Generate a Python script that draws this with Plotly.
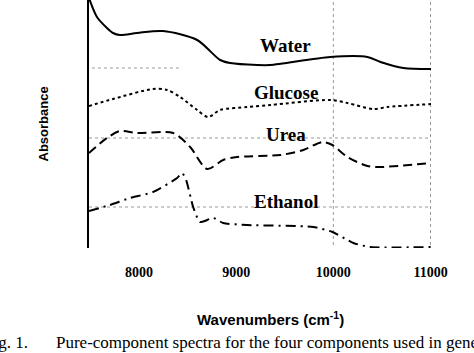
import plotly.graph_objects as go

# Data (wavenumber, absorbance in arbitrary offset units)
water_x = [7485, 7567, 7670, 7732, 7804, 7979, 8247, 8598, 8835, 8938, 9216, 9351, 9969, 10351, 10485, 10722, 11010]
water_y = [2.50, 2.31, 2.20, 2.15, 2.13, 2.15, 2.17, 2.08, 1.88, 1.85, 1.83, 1.83, 1.91, 1.91, 1.86, 1.80, 1.79]

glucose_x = [7485, 7732, 8144, 8289, 8423, 8598, 8711, 8835, 9113, 9351, 9969, 10144, 10412, 10557, 11010]
glucose_y = [1.42, 1.49, 1.59, 1.58, 1.51, 1.38, 1.31, 1.38, 1.41, 1.43, 1.48, 1.45, 1.39, 1.41, 1.44]

urea_x = [7485, 7670, 7804, 7979, 8351, 8526, 8701, 8866, 9010, 9454, 9691, 9887, 9990, 10144, 10351, 10485, 11010]
urea_y = [0.95, 1.10, 1.17, 1.15, 1.15, 1.01, 0.79, 0.88, 0.91, 0.93, 0.98, 1.06, 1.03, 0.91, 0.82, 0.81, 0.85]

ethanol_x = [7485, 7701, 7907, 8144, 8392, 8443, 8485, 8557, 8629, 8763, 8866, 9113, 9794, 9990, 10206, 10381, 11010]
ethanol_y = [0.37, 0.43, 0.50, 0.56, 0.70, 0.75, 0.68, 0.41, 0.26, 0.30, 0.25, 0.23, 0.21, 0.16, 0.05, 0.01, 0.01]

x_ticks = [8000, 9000, 10000, 11000]
x_tick_labels = ["8000", "9000", "10000", "11000"]
h_grid = [1.10, 0.41]
h_grid_partial = (1.80, 7515, 8443)
v_grid = [10000, 11000]

labels = ["Water", "Glucose", "Urea", "Ethanol"]
label_x = [9510, 9510, 9510, 9510]
label_y = [2.03, 1.56, 1.14, 0.47]

fig = go.Figure()
serif = "Liberation Serif, Times New Roman, serif"
sans = "Liberation Sans, Arial, sans-serif"

grid_style = dict(color="#999999", width=1, dash="dot")
for gy in h_grid:
    fig.add_shape(type="line", xref="x", yref="y", x0=7485, x1=11005, y0=gy, y1=gy, line=grid_style, layer="below")
fig.add_shape(type="line", xref="x", yref="y", x0=h_grid_partial[1], x1=h_grid_partial[2],
              y0=h_grid_partial[0], y1=h_grid_partial[0], line=grid_style, layer="below")
for gx in v_grid:
    fig.add_shape(type="line", xref="x", yref="y", x0=gx, x1=gx, y0=-0.03, y1=2.48, line=grid_style, layer="below")

fig.add_trace(go.Scatter(x=water_x, y=water_y, mode="lines",
                         line=dict(color="black", width=2, shape="spline", smoothing=0.8)))
fig.add_trace(go.Scatter(x=glucose_x, y=glucose_y, mode="lines",
                         line=dict(color="black", width=2, dash="dot", shape="spline", smoothing=0.8)))
fig.add_trace(go.Scatter(x=urea_x, y=urea_y, mode="lines",
                         line=dict(color="black", width=2, dash="9px,5px", shape="spline", smoothing=0.8)))
fig.add_trace(go.Scatter(x=ethanol_x, y=ethanol_y, mode="lines",
                         line=dict(color="black", width=2, dash="10px,5px,2px,5px", shape="spline", smoothing=0.6)))

for t, lx, ly in zip(labels, label_x, label_y):
    fig.add_annotation(x=lx, y=ly, xref="x", yref="y", text="<b>%s</b>" % t, showarrow=False,
                       font=dict(family=serif, size=19, color="black"))

# Axis titles and caption (pixel positions, converted below)
fig.add_annotation(x=270, y=330, xref="paper", yref="paper", text="<b>Wavenumbers (cm<sup>-1</sup>)</b>",
                   showarrow=False, font=dict(family=sans, size=15, color="black"))
fig.add_annotation(x=33, y=124, xref="paper", yref="paper", text="<b>Absorbance</b>", textangle=-90,
                   showarrow=False, font=dict(family=sans, size=13, color="black"))
fig.add_annotation(x=30, y=354, xref="paper", yref="paper", text="Fig. 1.", xanchor="right",
                   showarrow=False, font=dict(family=serif, size=17, color="black"))
fig.add_annotation(x=54, y=354, xref="paper", yref="paper",
                   text="Pure-component spectra for the four components used in generating",
                   xanchor="left", showarrow=False, font=dict(family=serif, size=17, color="black"))

L, R, T, B = 89, 43, 0, 105
W, H = 474, 353
pw, ph = W - L - R, H - T - B
for a in fig.layout.annotations:
    if a.xref == "paper":
        a.x = (a.x - L) / pw
        a.y = (H - B - a.y) / ph

fig.update_layout(
    width=W, height=H, margin=dict(l=L, r=R, t=T, b=B),
    paper_bgcolor="white", plot_bgcolor="white", showlegend=False,
    xaxis=dict(range=[7485, 11005], tickvals=x_ticks, ticktext=["<b>%s</b>" % s for s in x_tick_labels],
               showgrid=False, zeroline=False, showline=False, ticks="",
               ticklabelstandoff=14, tickfont=dict(family=serif, size=14, color="black")),
    yaxis=dict(range=[0, 2.48], showgrid=False, zeroline=False, showticklabels=False,
               showline=True, linecolor="black", linewidth=2, ticks=""),
)

fig.write_html("out.html")
